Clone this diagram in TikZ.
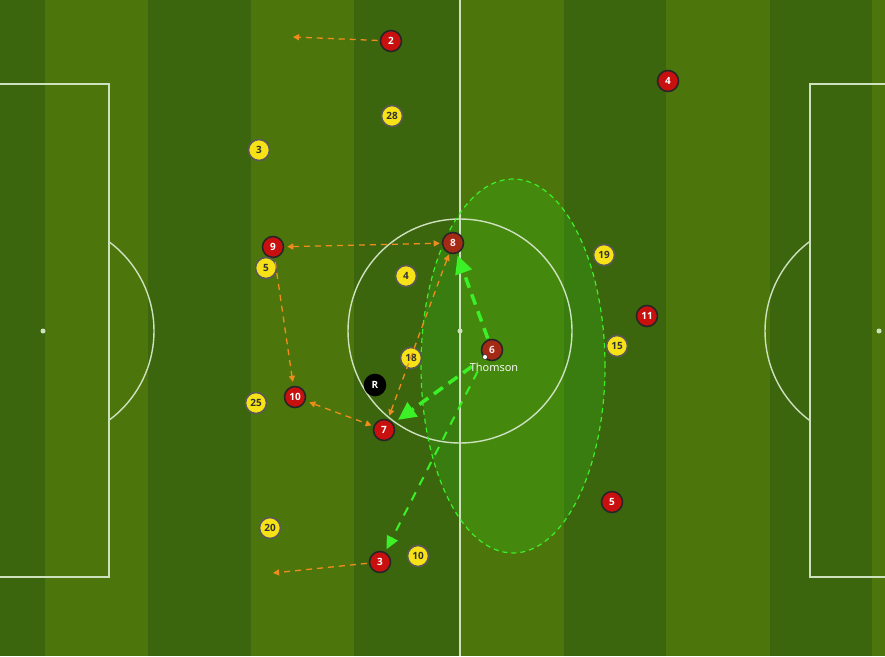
\documentclass[tikz,border=0pt]{standalone}
\usepackage{fontspec}
\newfontfamily\tokfont{Open Sans}
\usetikzlibrary{arrows.meta}
\definecolor{darkstripe}{RGB}{60,102,14}
\definecolor{lightstripe}{RGB}{76,118,12}
\definecolor{pitchline}{RGB}{205,225,190}
\definecolor{tokred}{RGB}{200,16,14}
\definecolor{tokreddim}{RGB}{165,42,22}
\definecolor{tokyel}{RGB}{246,226,22}
\definecolor{orangearr}{RGB}{240,140,30}
\definecolor{greenarr}{RGB}{60,240,40}
\definecolor{zonefill}{RGB}{50,190,20}
\begin{document}
\begin{tikzpicture}[x=1pt,y=-1pt,
  pline/.style={draw=pitchline, line width=1.4pt},
  tok/.style={circle, minimum size=21pt, inner sep=0pt, line width=1.6pt, font=\tokfont\bfseries\fontsize{10}{10}\selectfont},
  redtok/.style={tok, fill=tokred, draw=black!85, text=white},
  dimtok/.style={tok, fill=tokreddim, draw=black!85, text=white!92!red},
  yeltok/.style={tok, fill=tokyel, draw=black!65, text=black!80},
  reftok/.style={tok, fill=black, draw=black, text=white},
  orarrow/.style={draw=orangearr, line width=1.3pt, dash pattern=on 6pt off 5pt, -{Triangle[length=6pt,width=6pt]}},
  orboth/.style={orarrow, {Triangle[length=6pt,width=6pt]}-{Triangle[length=6pt,width=6pt]}},
  grthick/.style={draw=greenarr, line width=3.5pt, dash pattern=on 11pt off 7pt, -{Triangle[length=18pt,width=17pt]}},
  grthin/.style={draw=greenarr, line width=2pt, dash pattern=on 9pt off 8pt, -{Triangle[length=13pt,width=12pt]}}
]
\useasboundingbox (0,0) rectangle (885,656);
% stripes
\fill[darkstripe] (0,0) rectangle (885,656);
\foreach \a/\b in {45/148, 251/354, 460/564, 666/770, 872/885}
  \fill[lightstripe] (\a,0) rectangle (\b,656);
% zone fill
\fill[zonefill, fill opacity=0.25] (513,366) ellipse [x radius=92pt, y radius=187pt];
% pitch lines
\draw[pline] (460,0) -- (460,656);
\draw[pline] (460,331) circle [radius=112pt];
\fill[pitchline] (460,331) circle [radius=2.5pt];
\draw[pline] (0,84) -- (109,84) -- (109,577) -- (0,577);
\draw[pline] (885,84) -- (810,84) -- (810,577) -- (885,577);
\begin{scope}
  \clip (109,0) rectangle (300,656);
  \draw[pline] (43,331) circle [radius=111pt];
\end{scope}
\begin{scope}
  \clip (600,0) rectangle (810,656);
  \draw[pline] (877,331) circle [radius=112pt];
\end{scope}
\fill[pitchline] (43,331) circle [radius=2.5pt];
\fill[pitchline] (879,331) circle [radius=2.5pt];
% zone border
\draw[greenarr, line width=1.2pt, dash pattern=on 5pt off 4pt] (513,366) ellipse [x radius=92pt, y radius=187pt];
% tokens
\node[redtok] (r2) at (391,41) {2};
\node[redtok] (r4) at (668,81) {4};
\node[redtok] (r9) at (273,247) {9};
\node[dimtok] (r8) at (453,243) {8};
\node[dimtok] (r6) at (492,350) {6};
\node[redtok] (r11) at (647,316) {11};
\node[redtok] (r10) at (295,397) {10};
\node[redtok] (r7) at (384,430) {7};
\node[redtok] (r5) at (612,502) {5};
\node[redtok] (r3) at (380,562) {3};
\node[yeltok] (y28) at (392,116) {28};
\node[yeltok] (y3) at (259,150) {3};
\node[yeltok] (y5) at (266,268) {5};
\node[yeltok] (y4) at (406,276) {4};
\node[yeltok] (y19) at (604,255) {19};
\node[yeltok] (y18) at (411,358) {18};
\node[yeltok] (y15) at (617,346) {15};
\node[yeltok] (y25) at (256,403) {25};
\node[yeltok] (y20) at (270,528) {20};
\node[yeltok] (y10) at (418,556) {10};
\node[reftok] (ref) at (375,385) {R};
% free ends
\coordinate (e2) at (293,37);
\coordinate (e3) at (273,573);
\coordinate (ball) at (485,357);
% orange runs
\draw[orarrow, shorten <=2pt] (r2) -- (e2);
\draw[orarrow, shorten <=2pt] (r3) -- (e3);
\draw[orboth, shorten <=3pt, shorten >=2pt] (r9) -- (r8);
\draw[orarrow, shorten <=4pt, shorten >=4pt] (r9) -- (r10);
\draw[orboth, shorten <=4pt, shorten >=2pt] (r10) -- (r7);
\draw[orboth, shorten <=4pt, shorten >=1pt] (r7) -- (r8);
% green passes
\draw[grthick, shorten <=1pt, shorten >=2pt] (r6) -- (r8);
\draw[grthick, shorten <=16pt, shorten >=6pt] (ball) -- (r7);
\draw[grthin, shorten <=16pt, shorten >=3pt] (ball) -- (r3);
% ball and name
\filldraw[fill=white, draw=black!80, line width=0.6pt] (ball) circle [radius=2.5pt];
\node[text=white, font=\tokfont\fontsize{11}{11}\selectfont, inner sep=0pt] (name) at (494,367) {Thomson};
\end{tikzpicture}
\end{document}
